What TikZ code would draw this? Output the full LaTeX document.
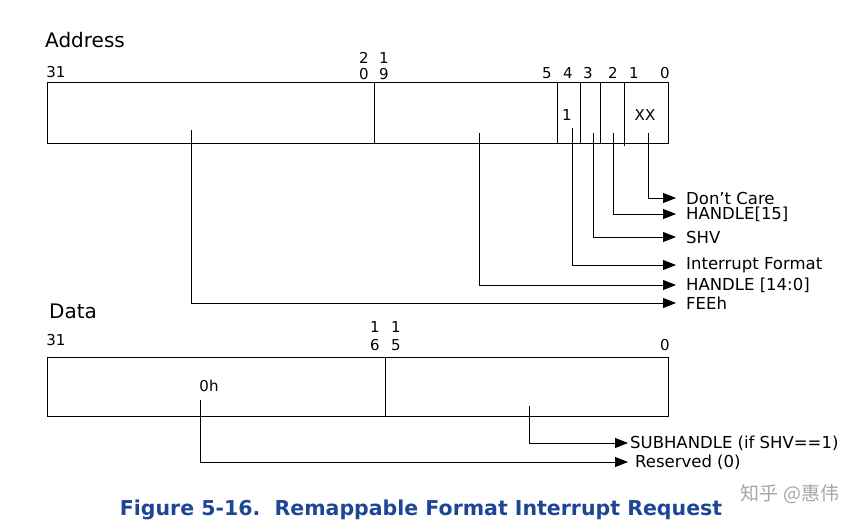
\documentclass[tikz,border=0pt]{standalone}
\usepackage{fontspec}
\setmainfont{DejaVu Sans}
\newfontfamily\cjkf{Noto Sans CJK SC}
\usetikzlibrary{arrows.meta}
\definecolor{capblue}{RGB}{30,70,150}
\begin{document}
\begin{tikzpicture}[x=1pt,y=-1pt,
  reg/.style={draw,line width=0.9pt},
  conn/.style={line width=0.9pt,-{Triangle[length=13pt,width=10pt]}},
  bit/.style={font=\fontsize{15}{15}\selectfont,inner sep=0pt},
  lab/.style={font=\fontsize{16.5}{16.5}\selectfont,anchor=west,inner sep=0pt},
  title/.style={font=\fontsize{20}{20}\selectfont,anchor=west,inner sep=0pt}]
\useasboundingbox (0,0) rectangle (868,528);
% Address
\node[title] (addr) at (45,40) {Address};
\draw[reg] (47,82) rectangle (668,143);
\foreach \x in {374,557,580,600} \draw[reg] (\x,82) -- (\x,143);
\draw[reg] (624,82) -- (624,146);
\node[bit] (b31) at (56,72) {31};
\node[bit] (b20a) at (364,58) {2};
\node[bit] (b20b) at (364,74) {0};
\node[bit] (b19a) at (384,58) {1};
\node[bit] (b19b) at (384,74) {9};
\node[bit] (b5) at (547,73) {5};
\node[bit] (b4) at (568,73) {4};
\node[bit] (b3) at (588,73) {3};
\node[bit] (b2) at (613,73) {2};
\node[bit] (b1) at (634,73) {1};
\node[bit] (b0) at (665,73) {0};
\node[bit] (one) at (567,115) {1};
\node[bit] (xx) at (645,115) {XX};
\coordinate (sDC) at (648,133);
\coordinate (sH15) at (613,133);
\coordinate (sSHV) at (593,133);
\coordinate (sIF) at (572,128);
\coordinate (sH14) at (479,133);
\coordinate (sFE) at (191,130);
\node[lab] (lDC) at (686,198) {Don’t Care};
\node[lab] (lH15) at (686,214) {HANDLE[15]};
\node[lab] (lSHV) at (686,237) {SHV};
\node[lab] (lIF) at (686,265) {Interrupt Format};
\node[lab] (lH14) at (686,285) {HANDLE [14:0]};
\node[lab] (lFE) at (686,303) {FEEh};
\foreach \s/\l in {sDC/lDC,sH15/lH15,sSHV/lSHV,sIF/lIF,sH14/lH14,sFE/lFE}
  \draw[conn] (\s) |- ([xshift=-10pt]\l.west);
% Data
\node[title] (data) at (49,311) {Data};
\draw[reg] (47,357) rectangle (668,416);
\draw[reg] (385,357) -- (385,416);
\node[bit] (d31) at (56,340) {31};
\node[bit] (d16a) at (375,327) {1};
\node[bit] (d16b) at (375,345) {6};
\node[bit] (d15a) at (396,327) {1};
\node[bit] (d15b) at (396,345) {5};
\node[bit] (d0) at (665,345) {0};
\node[bit] (zh) at (209,386) {0h};
\coordinate (sSUB) at (529,406);
\coordinate (sRES) at (200,400);
\node[lab] (lSUB) at (630,443) {SUBHANDLE (if SHV==1)};
\node[lab] (lRES) at (635,462) {Reserved (0)};
\draw[conn] (sSUB) |- ([xshift=-2pt]lSUB.west);
\draw[conn] (sRES) |- ([xshift=-7pt]lRES.west);
% caption
\node[font=\bfseries\fontsize{20.5}{20.5}\selectfont,text=capblue,inner sep=0pt] (cap) at (421,510) {Figure 5-16.\ \ Remappable Format Interrupt Request};
\node[font=\cjkf\fontsize{19}{19}\selectfont,text=black!35,inner sep=0pt] (wm) at (790,494) {知乎 @惠伟};
\end{tikzpicture}
\end{document}
